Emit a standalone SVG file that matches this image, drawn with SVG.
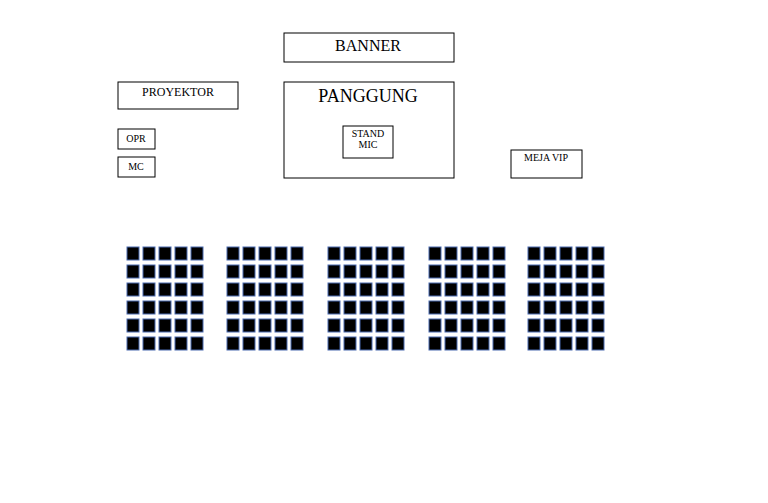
<svg xmlns="http://www.w3.org/2000/svg" xmlns:xlink="http://www.w3.org/1999/xlink" width="768" height="503" viewBox="0 0 768 503">
<style>
.b{fill:#fff;stroke:#000;stroke-width:1}
.t{font-family:"Liberation Serif",serif;fill:#000;text-anchor:middle}
.s{fill:#000;stroke:#4a6ab0;stroke-width:1}
</style>
<defs>
<g id="row"><rect class="s" x="0" y="0" width="12" height="13"/><rect class="s" x="16" y="0" width="12" height="13"/><rect class="s" x="32" y="0" width="12" height="13"/><rect class="s" x="48" y="0" width="12" height="13"/><rect class="s" x="64" y="0" width="12" height="13"/></g>
<g id="blk"><use xlink:href="#row" y="0"/><use xlink:href="#row" y="18"/><use xlink:href="#row" y="36"/><use xlink:href="#row" y="54"/><use xlink:href="#row" y="72"/><use xlink:href="#row" y="90"/></g>
</defs>
<rect width="768" height="503" fill="#fff"/>
<g id="banner"><rect class="b" x="284" y="33" width="170" height="29"/><text class="t" x="368" y="51" font-size="16">BANNER</text></g>
<g id="panggung"><rect class="b" x="284" y="82" width="170" height="96"/><text class="t" x="368" y="102" font-size="18">PANGGUNG</text></g>
<g id="standmic"><rect class="b" x="343" y="126" width="50" height="32"/><text class="t" x="368" y="137" font-size="10">STAND</text><text class="t" x="368" y="148" font-size="10">MIC</text></g>
<g id="proyektor"><rect class="b" x="118" y="82" width="120" height="27"/><text class="t" x="178" y="96" font-size="12">PROYEKTOR</text></g>
<g id="opr"><rect class="b" x="118" y="129" width="37" height="20"/><text class="t" x="136" y="142" font-size="10">OPR</text></g>
<g id="mc"><rect class="b" x="118" y="157" width="37" height="20"/><text class="t" x="136" y="170" font-size="10">MC</text></g>
<g id="mejavip"><rect class="b" x="511" y="150" width="71" height="28"/><text class="t" x="546" y="161" font-size="10">MEJA VIP</text></g>
<g id="seats">
<use xlink:href="#blk" x="127" y="247"/>
<use xlink:href="#blk" x="227" y="247"/>
<use xlink:href="#blk" x="328" y="247"/>
<use xlink:href="#blk" x="429" y="247"/>
<use xlink:href="#blk" x="528" y="247"/>
</g>
<g id="connectors"/>
</svg>
